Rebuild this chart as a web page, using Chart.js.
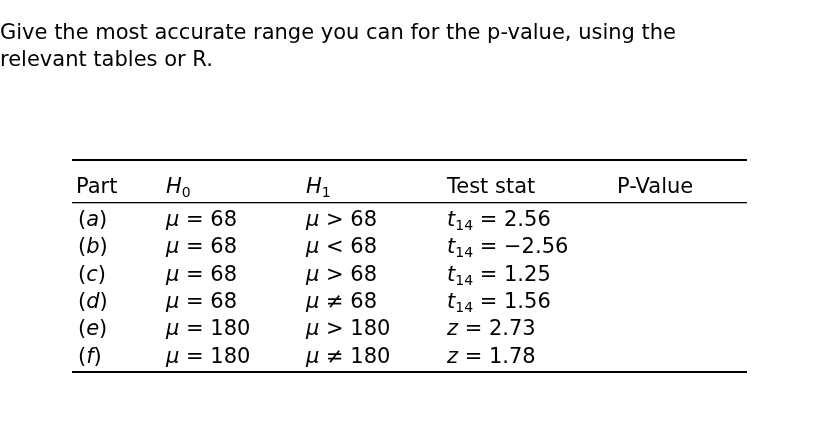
<!DOCTYPE html>
<html><head><meta charset="utf-8">
<script src="https://cdn.jsdelivr.net/npm/chart.js@4/dist/chart.umd.min.js"></script>
<style>html,body{margin:0;background:#fff}#w{width:831px;height:443px}</style>
</head><body><div id="w"><canvas id="c"></canvas></div>
<script>
const introLines = ["Give the most accurate range you can for the p-value, using the","relevant tables or R."];
const headers = ["Part","*H*_{0}","*H*_{1}","Test stat","P-Value"];
const parts = ["(*a*)","(*b*)","(*c*)","(*d*)","(*e*)","(*f*)"];
const nullHyp = ["*μ* = 68","*μ* = 68","*μ* = 68","*μ* = 68","*μ* = 180","*μ* = 180"];
const altHyp = ["*μ* > 68","*μ* < 68","*μ* > 68","*μ* ≠ 68","*μ* > 180","*μ* ≠ 180"];
const testStats = ["*t*_{14} = 2.56","*t*_{14} = −2.56","*t*_{14} = 1.25","*t*_{14} = 1.56","*z* = 2.73","*z* = 1.78"];
const pValues = ["","","","","",""];

const FAM = "'DejaVu Sans', sans-serif";
function drawRich(ctx, s, x, y, size){
  const re = /\*([^*]+)\*|_\{([^}]+)\}|([^*_]+)/g; let m;
  while((m = re.exec(s))){
    let txt, font, dy = 0;
    if(m[1]!==undefined){txt=m[1];font=`oblique ${size}px ${FAM}`;}
    else if(m[2]!==undefined){txt=m[2];font=`${Math.round(size*0.68)}px ${FAM}`;dy=4;}
    else {txt=m[3];font=`${size}px ${FAM}`;}
    ctx.font=font; ctx.fillText(txt,x,y+dy); x+=ctx.measureText(txt).width;
  }
}
const tablePlugin = {id:'tbl', afterDraw(chart){
  const ctx = chart.ctx; ctx.save(); ctx.fillStyle='#000'; ctx.textBaseline='alphabetic';
  const size=21;
  introLines.forEach((l,i)=>drawRich(ctx,l,0,39+i*27,size));
  const cols=[76,166,306,447,617];
  ctx.fillRect(72,159,675,2);
  headers.forEach((h,i)=>drawRich(ctx,h,cols[i],193,size));
  ctx.fillRect(72,202,675,1.3);
  const cols2=[78,166,306,447,617];
  for(let r=0;r<parts.length;r++){
    const y=226+r*27.3;
    [parts[r],nullHyp[r],altHyp[r],testStats[r],pValues[r]].forEach((t,i)=>drawRich(ctx,t,cols2[i],y,size));
  }
  ctx.fillRect(72,371,675,2);
  ctx.restore();
}};
new Chart(document.getElementById('c'),{
  type:'scatter',
  data:{datasets:[{data:[]}]},
  options:{responsive:true,maintainAspectRatio:false,animation:false,
    plugins:{legend:{display:false},tooltip:{enabled:false}},
    scales:{x:{display:false},y:{display:false}}},
  plugins:[tablePlugin]
});
</script></body></html>
